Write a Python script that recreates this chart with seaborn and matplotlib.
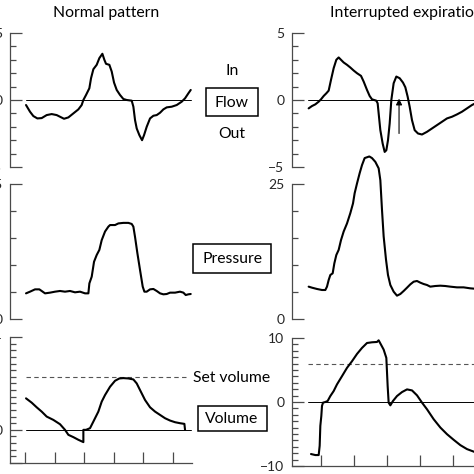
import matplotlib
matplotlib.use("Agg")
import matplotlib.pyplot as plt
import matplotlib.patches as patches
import seaborn as sns

# ---- values (time in breath-marker units) ----
# normal pattern
normal_flow_t = [0.034, 0.169, 0.282, 0.417, 0.563, 0.732, 0.901, 1.070, 1.182, 1.318,
                 1.464, 1.633, 1.802, 1.914, 1.971, 2.061, 2.173, 2.230, 2.309, 2.421,
                 2.511, 2.613, 2.680, 2.736, 2.849, 2.928, 3.007, 3.097, 3.209, 3.322,
                 3.435, 3.604, 3.660, 3.716, 3.773, 3.863, 3.953, 4.020, 4.110, 4.223,
                 4.336, 4.448, 4.561, 4.673, 4.786, 4.955, 5.124, 5.293, 5.405, 5.518, 5.597]
normal_flow = [-0.375, -0.875, -1.2, -1.375, -1.35, -1.125, -1.05, -1.125, -1.25, -1.4,
               -1.3, -1.0, -0.7, -0.375, 0.0, 0.375, 0.875, 1.625, 2.3, 2.625,
               3.125, 3.45, 3.0, 2.7, 2.625, 2.125, 1.3, 0.75, 0.375, 0.075,
               0.0, -0.05, -0.5, -1.5, -2.125, -2.625, -3.0, -2.625, -2.0, -1.375,
               -1.175, -1.125, -0.95, -0.7, -0.55, -0.5, -0.375, -0.125, 0.125, 0.5, 0.75]

normal_pres_t = [0.034, 0.169, 0.338, 0.484, 0.563, 0.676, 0.845, 1.014, 1.182, 1.351,
                 1.520, 1.689, 1.858, 2.027, 2.140, 2.174, 2.253, 2.331, 2.421, 2.511,
                 2.590, 2.703, 2.815, 2.872, 3.041, 3.153, 3.322, 3.491, 3.604, 3.660,
                 3.716, 3.795, 3.885, 3.975, 4.032, 4.110, 4.223, 4.336, 4.448, 4.561,
                 4.673, 4.786, 4.899, 5.068, 5.236, 5.349, 5.428, 5.518, 5.597]
normal_pres = [4.75, 5.06, 5.49, 5.49, 5.19, 4.75, 4.88, 5.06, 5.19, 5.06,
               5.19, 4.94, 5.06, 4.75, 4.75, 6.6, 7.84, 10.6, 11.85, 12.8,
               14.6, 16.2, 17.1, 17.4, 17.4, 17.7, 17.8, 17.8, 17.6, 17.1,
               15.2, 12.2, 9.07, 6.0, 5.06, 5.06, 5.49, 5.56, 5.19, 4.75,
               4.57, 4.63, 4.88, 4.88, 5.06, 4.88, 4.44, 4.57, 4.63]

normal_vol_t = [0.034, 0.225, 0.394, 0.563, 0.732, 0.957, 1.182, 1.351, 1.464, 1.633,
                1.802, 1.971, 1.971, 2.061, 2.196, 2.309, 2.477, 2.590, 2.703, 2.872,
                3.041, 3.187, 3.322, 3.491, 3.660, 3.773, 3.885, 4.054, 4.223, 4.392,
                4.561, 4.730, 4.899, 5.068, 5.236, 5.383, 5.405]
normal_vol = [4.75, 4.1, 3.4, 2.75, 2.0, 1.5, 0.85, 0.0, -0.75, -1.1,
              -1.5, -1.85, 0.0, 0.0, 0.25, 1.25, 2.75, 4.25, 5.25, 6.5,
              7.4, 7.75, 7.8, 7.75, 7.6, 7.0, 6.0, 4.5, 3.4, 2.75,
              2.25, 1.75, 1.4, 1.15, 1.0, 0.9, 0.0]
normal_set_volume = 8

# interrupted expiration
inter_flow_t = [-0.361, -0.260, -0.159, -0.058, 0.012, 0.093, 0.173, 0.244, 0.314, 0.395,
                0.475, 0.546, 0.616, 0.697, 0.798, 0.898, 0.999, 1.100, 1.221, 1.301,
                1.402, 1.482, 1.553, 1.684, 1.724, 1.754, 1.805, 1.875, 1.936, 1.986,
                2.036, 2.087, 2.137, 2.207, 2.288, 2.389, 2.489, 2.560, 2.630, 2.691,
                2.761, 2.842, 2.943, 3.063, 3.214, 3.365, 3.516, 3.667, 3.818, 3.969,
                4.120, 4.271, 4.422, 4.573, 4.633, 4.800]
inter_flow = [-0.625, -0.45, -0.325, -0.125, 0.05, 0.3, 0.5, 0.7, 1.5, 2.375,
              3.0, 3.175, 3.0, 2.8, 2.625, 2.425, 2.2, 2.0, 1.8, 1.375,
              0.75, 0.3, 0.05, -0.05, -0.25, -1.0, -2.25, -3.25, -3.875, -3.75,
              -3.0, -1.75, 0.0, 1.25, 1.75, 1.625, 1.3, 0.95, 0.25, -0.5,
              -1.5, -2.25, -2.5, -2.575, -2.375, -2.125, -1.875, -1.625, -1.375, -1.25,
              -1.075, -0.875, -0.625, -0.375, -0.3, -0.1]
arrow_t = 2.37
arrow_from, arrow_to = -2.5, 0.1

inter_pres_t = [-0.361, -0.260, -0.109, 0.042, 0.143, 0.193, 0.244, 0.294, 0.365, 0.415,
                0.475, 0.546, 0.616, 0.697, 0.798, 0.898, 0.979, 1.029, 1.100, 1.180,
                1.251, 1.331, 1.472, 1.553, 1.654, 1.754, 1.805, 1.855, 1.905, 1.976,
                2.036, 2.107, 2.207, 2.308, 2.409, 2.510, 2.611, 2.711, 2.812, 2.912,
                3.013, 3.113, 3.213, 3.314, 3.465, 3.616, 3.767, 3.918, 4.120, 4.321,
                4.522, 4.633, 4.800]
inter_pres = [5.99, 5.80, 5.56, 5.37, 5.37, 5.99, 7.22, 8.15, 8.46, 10.3,
              11.85, 12.8, 14.6, 16.2, 17.7, 19.6, 21.4, 23.3, 25.1, 27.0,
              28.5, 29.8, 30.1, 29.8, 29.1, 27.9, 25.7, 20.2, 15.3, 11.0,
              8.15, 6.3, 5.06, 4.32, 4.63, 5.19, 5.8, 6.42, 6.91, 7.04,
              6.73, 6.48, 6.3, 5.99, 6.11, 6.17, 6.11, 5.99, 5.86, 5.86,
              5.68, 5.62, 5.6]

inter_vol_t = [-0.290, -0.159, -0.058, -0.028, -0.008, 0.022, 0.042, 0.073, 0.143, 0.213,
               0.294, 0.395, 0.495, 0.647, 0.798, 0.949, 1.100, 1.251, 1.402, 1.553,
               1.704, 1.754, 1.825, 1.905, 1.986, 2.026, 2.056, 2.107, 2.187, 2.308,
               2.459, 2.611, 2.762, 2.913, 3.064, 3.215, 3.416, 3.618, 3.819, 4.021,
               4.222, 4.423, 4.634, 4.800]
inter_vol = [-8.13, -8.29, -8.29, -6.84, -3.73, -2.18, -0.62, -0.10, 0.0, 0.16,
             0.93, 1.71, 2.75, 4.04, 5.34, 6.37, 7.51, 8.45, 9.22, 9.33,
             9.38, 9.64, 8.96, 8.19, 6.89, 2.49, -0.10, -0.52, 0.16, 0.93,
             1.55, 1.97, 1.81, 1.04, -0.10, -1.14, -2.69, -3.99, -5.03, -5.91,
             -6.74, -7.36, -7.77, -8.2]
inter_set_volume = 6

normal_ticks = [0, 1, 2, 3, 4, 5]
inter_ticks = [0, 1, 2, 3, 4]

sns.set_style("ticks")
plt.rcParams['font.family'] = ['Lato', 'DejaVu Sans']

W = H = 474
fig = plt.figure(figsize=(4.74, 4.74), dpi=100)
spine_c = '#4a4a4a'


def place(x0, x1, y0, y1):
    return fig.add_axes([x0 / W, 1 - y1 / H, (x1 - x0) / W, (y1 - y0) / H])


def style(ax, xlim, ylim, major, minor, xticks=None):
    ax.set_facecolor('none')
    ax.set_xlim(xlim)
    ax.set_ylim(ylim)
    for s in ['top', 'right']:
        ax.spines[s].set_visible(False)
    ax.spines['bottom'].set_visible(xticks is not None)
    for s in ['left', 'bottom']:
        ax.spines[s].set_color(spine_c)
        ax.spines[s].set_linewidth(0.9)
    ax.set_yticks(major)
    ax.set_yticks(minor, minor=True)
    ax.tick_params(axis='y', which='major', direction='in', length=8.6, width=0.9,
                   color=spine_c, pad=5.5, labelsize=10)
    ax.tick_params(axis='y', which='minor', direction='in', length=4.6, width=0.9,
                   color=spine_c)
    if xticks is None:
        ax.set_xticks([])
    else:
        ax.set_xticks(xticks)
        ax.set_xticklabels([])
        ax.tick_params(axis='x', which='major', direction='in', length=7.8, width=0.9,
                       color=spine_c)
    ax.set_xlabel('')
    ax.set_ylabel('')


def curve(ax, t, v):
    sns.lineplot(x=t, y=v, ax=ax, color='black', linewidth=1.5, sort=False,
                 estimator=None, clip_on=False)


def zero(ax, y, x0):
    ax.axhline(y, xmin=x0, xmax=0.995, color='black', lw=0.7)


nxlim = (-0.507, 5.64)
ixlim = (-0.864, 5.964)
nx0 = (26 - 10) / 182
ix0 = (308 - 292) / 226

ax_nf = place(10, 192, 33, 167)
ax_np = place(10, 192, 184, 319)
ax_nv = place(10, 192, 337, 463)
ax_if = place(292, 518, 33, 167)
ax_ip = place(292, 518, 184, 319)
ax_iv = place(292, 518, 338, 466)

for ax in [ax_nf, ax_np, ax_nv]:
    zero(ax, 0, nx0)
for ax in [ax_if, ax_ip, ax_iv]:
    zero(ax, 0, ix0)
ax_nv.axhline(normal_set_volume, xmin=nx0, xmax=0.98, color='#555555', lw=0.8, ls=(0, (4, 3)))
ax_iv.axhline(inter_set_volume, xmin=ix0, xmax=1, color='#555555', lw=0.8, ls=(0, (4, 3)))

curve(ax_nf, normal_flow_t, normal_flow)
curve(ax_np, normal_pres_t, normal_pres)
curve(ax_nv, normal_vol_t, normal_vol)
curve(ax_if, inter_flow_t, inter_flow)
curve(ax_ip, inter_pres_t, inter_pres)
curve(ax_iv, inter_vol_t, inter_vol)

ax_if.annotate('', xy=(arrow_t, arrow_to), xytext=(arrow_t, arrow_from),
               arrowprops=dict(arrowstyle='-|>', lw=0.8, color='black', mutation_scale=9,
                               shrinkA=0, shrinkB=0))

flow_minor = list(range(-5, 6))
style(ax_nf, nxlim, (-5, 5), [-5, 0, 5], flow_minor)
style(ax_if, ixlim, (-5, 5), [-5, 0, 5], flow_minor)
style(ax_np, nxlim, (0, 25), [0, 25], [5, 10, 15, 20])
style(ax_ip, ixlim, (0, 25), [0, 25], [5, 10, 15, 20])
style(ax_nv, nxlim, (-5, 14), [-5, 0, 14], list(range(-5, 15)), xticks=normal_ticks)
ax_nv.set_yticklabels(['', '0', '14'])
style(ax_iv, ixlim, (-10, 10), [-10, 0, 10], list(range(-10, 11)), xticks=inter_ticks)


def ftext(x, y, s, **kw):
    fig.text(x / W, 1 - y / H, s, fontsize=11.3, color='black', va='baseline', **kw)


ftext(53, 16.7, 'Normal pattern', ha='left')
ftext(330, 16.7, 'Interrupted expiration', ha='left')
ftext(232, 75, 'In', ha='center')
ftext(232, 107.3, 'Flow', ha='center')
ftext(232, 138.3, 'Out', ha='center')
ftext(232, 263.3, 'Pressure', ha='center')
ftext(232, 381.5, 'Set volume', ha='center')
ftext(232, 423.3, 'Volume', ha='center')

for (x0, y0, x1, y1) in [(206, 88, 258, 116), (193, 244, 271, 273), (198, 406, 267, 431)]:
    fig.patches.append(patches.Rectangle((x0 / W, 1 - y1 / H), (x1 - x0) / W, (y1 - y0) / H,
                                         transform=fig.transFigure, fill=False,
                                         edgecolor='black', linewidth=1.1))

fig.savefig('out.png', dpi=100)
